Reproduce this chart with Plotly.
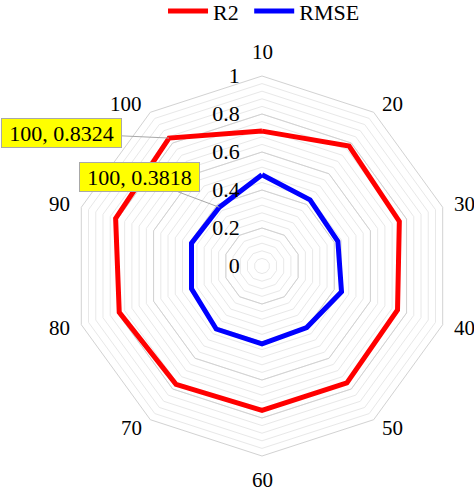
import math
import plotly.graph_objects as go

# --- data ---
categories = ['10', '20', '30', '40', '50', '60', '70', '80', '90', '100']
r2_values = [0.71, 0.78, 0.76, 0.75, 0.76, 0.76, 0.77, 0.79, 0.81, 0.8324]
rmse_values = [0.48, 0.43, 0.42, 0.44, 0.40, 0.41, 0.41, 0.39, 0.39, 0.3818]
radial_ticks = [0, 0.2, 0.4, 0.6, 0.8, 1]

W, H = 474, 492
DOM_X = [72 / W, 452 / W]
DOM_Y = [36 / H, 416 / H]
SERIF = 'Liberation Serif'


def close(vals):
    return list(vals) + [vals[0]]


fig = go.Figure()
# invisible trace so the minor-grid polar gets drawn
fig.add_trace(go.Scatterpolar(r=close(r2_values), theta=close(categories), mode='lines',
                              line=dict(color='rgba(0,0,0,0)'), showlegend=False,
                              hoverinfo='skip', subplot='polar'))
fig.add_trace(go.Scatterpolar(r=close(r2_values), theta=close(categories), mode='lines',
                              name='R2\u00a0', line=dict(color='#ff0000', width=5),
                              subplot='polar2'))
fig.add_trace(go.Scatterpolar(r=close(rmse_values), theta=close(categories), mode='lines',
                              name='RMSE', line=dict(color='#0000ff', width=5),
                              subplot='polar2'))

angular_common = dict(type='category', categoryarray=categories, direction='clockwise',
                      rotation=90, showgrid=False, ticks='')

fig.update_layout(
    width=W, height=H,
    margin=dict(l=0, r=0, t=0, b=0, autoexpand=False),
    paper_bgcolor='white',
    font=dict(family=SERIF, size=21, color='black'),
    showlegend=True,
    legend=dict(orientation='h', x=0.557, xanchor='center', y=1.02, yanchor='top',
                font=dict(family=SERIF, size=22), itemwidth=40),
    # minor grid (behind)
    polar=dict(
        domain=dict(x=DOM_X, y=DOM_Y),
        bgcolor='white',
        gridshape='linear',
        radialaxis=dict(range=[0, 1], dtick=0.04, tick0=0, showticklabels=False,
                        showline=False, ticks='', gridcolor='#e8e8e8', gridwidth=1),
        angularaxis=dict(showticklabels=False, showline=False, **angular_common),
    ),
    # major grid, radial labels and data
    polar2=dict(
        domain=dict(x=DOM_X, y=DOM_Y),
        bgcolor='rgba(0,0,0,0)',
        gridshape='linear',
        radialaxis=dict(range=[0, 1], tickvals=radial_ticks, ticktext=[str(v) for v in radial_ticks],
                        angle=90, tickangle=90, side='counterclockwise', showline=False,
                        ticks='outside', ticklen=14, tickcolor='rgba(0,0,0,0)',
                        gridcolor='#d2d2d2', gridwidth=1,
                        tickfont=dict(family=SERIF, size=22)),
        angularaxis=dict(showline=True, linecolor='#d2d2d2', linewidth=1,
                         showticklabels=False, **angular_common),
    ),
)

# polar frame in page pixels
cx = (DOM_X[0] + DOM_X[1]) / 2 * W
cy = (1 - (DOM_Y[0] + DOM_Y[1]) / 2) * H
R = (DOM_X[1] - DOM_X[0]) * W / 2
step = 360 / len(categories)

# category labels just outside each vertex of the outer ring (Excel-style placement)
for i, cat in enumerate(categories):
    a = math.radians(90 - i * step)
    ca, sa = math.cos(a), math.sin(a)
    lx = cx + (R + 10) * ca
    ly = cy - (R + 10) * sa
    xa = 'left' if ca > 0.1 else ('right' if ca < -0.1 else 'center')
    ya = 'bottom' if sa > 0.9 else ('top' if sa < -0.9 else 'middle')
    fig.add_annotation(x=lx / W, y=1 - ly / H, xref='paper', yref='paper', text=cat,
                       showarrow=False, xanchor=xa, yanchor=ya,
                       font=dict(family=SERIF, size=21, color='black'))


# data callouts for the last category, placed from the data value
def callout(val, ax, ay):
    a = math.radians(90 - (len(categories) - 1) * step)
    px_ = cx + val * R * math.cos(a)
    py_ = cy - val * R * math.sin(a)
    fig.add_annotation(x=px_ / W, y=1 - py_ / H, xref='paper', yref='paper',
                       text=f'{categories[-1]}, {val}', showarrow=True, arrowhead=0,
                       arrowcolor='#a8a8a8', arrowwidth=1, ax=ax, ay=ay,
                       width=117, height=26, borderpad=1,
                       bgcolor='#ffff00', bordercolor='#a8a8a8', borderwidth=1,
                       font=dict(family=SERIF, size=22, color='black'))


callout(r2_values[-1], -108, -5)
callout(rmse_values[-1], -80, -30)

# page has a default body margin; drop it so the figure fills the window
fig.write_html("out.html", config={'displayModeBar': False},
               post_script="document.body.style.margin='0px';")
